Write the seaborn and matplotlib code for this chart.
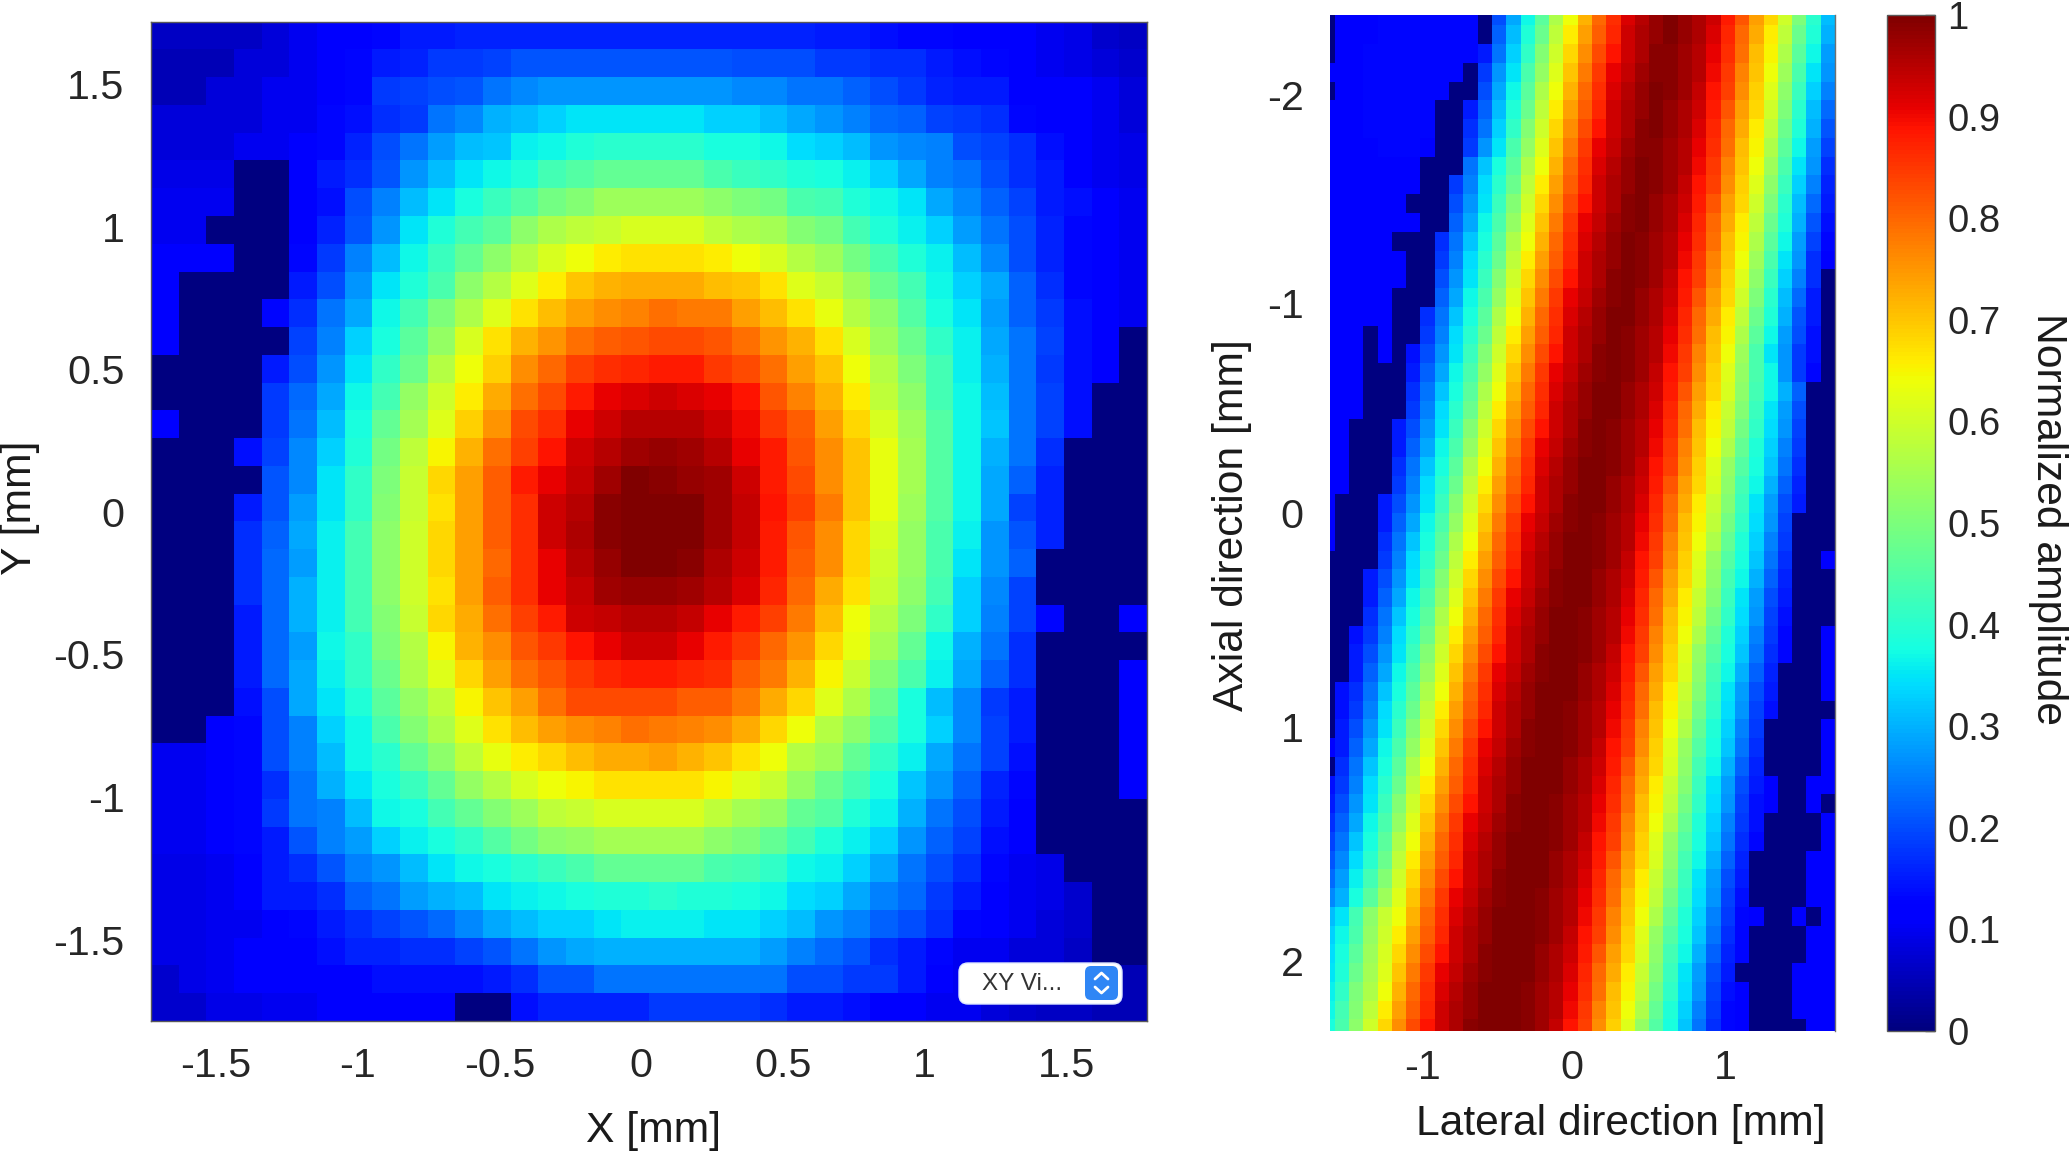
import matplotlib
matplotlib.use("Agg")
import matplotlib.pyplot as plt
from matplotlib.patches import FancyBboxPatch
from matplotlib.lines import Line2D
from matplotlib.transforms import ScaledTranslation
import numpy as np
import seaborn as sns

# Amplitudes, in percent of full scale; rows run top to bottom.
xy_view_pct = [
[6,6,6,6,8,10,11,12,13,15,15,16,16,16,16,16,16,16,16,16,16,16,16,16,15,15,14,13,13,12,11,11,10,9,7,6],
[5,5,5,8,8,10,12,13,15,16,18,18,19,21,21,21,21,21,21,21,21,20,20,20,18,18,17,17,15,14,13,12,10,9,8,7],
[5,5,8,8,10,10,11,13,18,19,20,21,24,26,27,27,27,27,27,27,27,26,26,24,24,22,20,18,16,15,15,12,11,11,10,8],
[8,8,8,8,10,10,13,14,17,18,24,26,30,31,33,35,35,35,35,35,33,33,31,29,27,25,23,22,19,18,17,13,12,11,10,8],
[8,8,8,10,10,12,13,16,20,24,28,31,32,36,37,39,40,40,40,40,38,38,37,34,33,31,27,26,25,20,19,17,14,12,10,9],
[9,9,9,0,0,11,15,17,21,27,31,35,37,39,43,45,47,47,47,47,44,42,41,39,38,36,33,29,25,24,20,17,15,12,10,9],
[10,10,10,0,0,11,14,20,25,31,35,38,42,45,49,51,54,54,54,54,52,50,49,44,43,39,37,35,29,26,22,19,15,14,11,10],
[10,10,0,0,0,12,16,21,27,35,39,43,46,52,56,58,59,61,61,61,58,56,55,51,49,43,39,36,33,28,24,20,16,13,11,10],
[11,11,11,0,0,13,18,25,31,37,42,47,52,57,61,64,66,67,67,67,66,64,61,57,54,49,44,39,36,31,26,20,16,13,12,10],
[11,0,0,0,0,15,20,27,35,39,44,52,57,62,66,70,72,73,73,73,71,70,67,62,59,54,48,43,37,33,29,22,17,13,12,10],
[11,0,0,0,13,17,24,29,37,43,50,56,62,67,71,74,76,77,79,78,78,74,71,67,63,57,52,45,38,35,28,22,18,14,12,10],
[12,0,0,0,0,19,25,33,38,46,53,61,67,72,75,79,81,82,83,83,82,79,75,72,67,61,54,48,41,36,29,24,19,14,12,0],
[0,0,0,0,15,20,27,35,41,48,57,64,69,76,80,84,86,87,88,88,85,83,79,74,70,64,57,50,43,36,30,24,18,14,12,0],
[0,0,0,0,18,23,29,37,43,53,60,66,73,79,83,88,91,92,93,92,91,89,82,77,72,66,58,52,43,37,31,24,19,14,0,0],
[12,0,0,0,18,24,31,38,47,55,62,69,75,83,86,91,93,95,95,95,93,90,85,81,74,68,61,54,45,37,32,24,19,14,0,0],
[0,0,0,14,19,26,33,39,49,58,65,72,79,84,89,93,95,97,98,97,95,91,88,82,76,70,63,55,45,37,30,24,17,0,0,0],
[0,0,0,0,21,26,35,41,50,59,68,74,81,88,91,94,97,100,99,98,97,93,88,83,76,70,63,55,45,37,29,22,16,0,0,0],
[0,0,0,15,21,28,35,41,51,59,67,74,81,86,93,95,99,100,100,100,97,94,89,84,78,70,63,54,45,37,29,19,16,0,0,0],
[0,0,0,17,22,29,36,43,52,60,68,74,81,86,93,96,99,100,100,100,97,94,88,82,76,68,61,53,44,36,27,21,16,0,0,0],
[0,0,0,17,23,28,36,43,52,60,68,74,80,86,91,95,98,100,100,99,96,93,88,81,76,68,60,53,44,35,27,22,0,0,0,0],
[0,0,0,17,23,30,36,43,52,60,67,74,81,86,91,94,97,98,98,97,95,92,87,80,73,67,59,52,43,33,26,19,0,0,0,0],
[0,0,0,15,23,30,36,43,51,59,68,73,79,84,88,93,94,95,95,94,91,88,84,78,71,64,57,50,41,33,25,19,13,0,0,12],
[0,0,0,15,23,28,37,41,50,57,65,72,76,82,85,89,91,93,93,91,88,85,80,75,68,63,55,47,37,30,24,17,0,0,0,0],
[0,0,0,15,23,29,36,41,48,56,62,68,74,79,82,85,87,88,88,87,86,81,78,72,65,59,51,44,36,29,22,17,0,0,0,12],
[0,0,0,14,20,29,35,39,46,53,58,65,70,74,79,83,83,83,83,81,81,78,73,68,62,56,48,38,31,26,18,15,0,0,0,11],
[0,0,11,13,20,25,33,37,44,51,56,62,67,71,74,76,77,79,78,77,76,73,68,64,57,52,45,38,33,26,19,15,0,0,0,11],
[10,10,11,13,20,25,31,37,40,47,52,58,63,66,68,71,73,73,74,72,70,67,64,57,54,47,41,36,29,24,19,14,0,0,0,11],
[10,10,11,13,17,24,30,35,38,42,47,53,57,61,64,65,67,67,67,67,65,62,59,53,48,43,38,32,27,22,16,13,0,0,0,11],
[10,10,11,13,18,24,25,31,37,38,43,47,51,54,58,59,61,61,61,61,58,55,53,47,45,39,36,30,24,20,15,11,0,0,0,0],
[10,10,11,13,15,21,25,28,33,36,38,41,45,49,52,53,55,55,55,55,52,50,47,43,39,36,33,27,22,19,14,11,0,0,0,0],
[9,9,10,12,15,17,21,25,27,31,35,37,38,40,42,44,47,47,47,47,44,43,41,37,36,33,29,24,20,17,13,10,9,0,0,0],
[9,9,10,12,15,15,17,22,24,28,30,31,35,36,37,38,39,39,40,39,39,38,37,34,33,29,25,23,18,15,11,10,9,7,0,0],
[9,9,10,10,12,13,15,17,19,21,23,26,29,31,33,33,35,36,36,36,35,35,33,31,27,25,22,20,17,13,11,10,8,7,0,0],
[9,9,10,11,11,12,14,16,16,17,17,19,21,24,27,29,30,30,30,30,30,30,28,25,23,21,17,15,13,10,10,8,8,6,0,0],
[7,9,10,11,11,11,12,12,14,14,14,14,15,17,21,21,24,24,24,24,24,24,24,20,20,18,18,15,12,10,9,8,7,6,6,5],
[7,7,9,9,10,10,11,11,12,12,12,0,0,14,16,16,16,16,18,18,18,18,17,15,15,14,12,11,10,10,8,7,6,6,5,5],
]

axial_view_pct = [
[0,12,12,12,13,13,13,13,13,13,13,0,20,29,37,46,56,64,72,80,86,92,95,98,100,98,96,93,88,82,74,68,60,50,40,31],
[0,12,12,12,13,13,13,13,13,13,13,0,22,31,39,48,58,66,74,81,87,93,96,98,100,98,96,92,87,80,73,66,58,48,39,30],
[0,12,12,13,13,13,13,13,13,13,13,15,24,33,41,51,60,68,76,83,89,93,96,99,99,97,95,91,86,79,71,65,56,46,37,28],
[11,12,12,13,13,13,13,13,13,13,0,18,27,35,44,53,62,70,78,85,91,94,97,99,99,97,95,90,85,77,70,64,54,44,35,27],
[0,12,12,13,13,13,13,13,13,0,0,20,29,37,46,56,64,72,80,86,92,95,98,100,99,97,94,89,84,76,69,62,52,42,33,25],
[11,11,12,13,13,13,13,13,0,0,15,22,31,39,48,58,66,74,81,87,93,96,98,100,98,96,93,88,82,74,68,60,50,40,31,23],
[11,11,12,13,13,13,13,13,0,0,17,24,33,41,51,60,68,76,83,89,93,96,99,100,98,96,92,87,80,73,66,58,48,39,30,21],
[11,12,12,12,13,13,13,11,0,0,18,27,35,44,53,62,70,78,85,91,94,97,99,99,97,95,91,86,79,71,65,56,46,37,28,19],
[11,12,12,12,12,11,11,0,0,0,24,32,38,46,56,64,72,80,86,92,95,98,100,99,97,95,90,85,77,70,64,54,44,35,27,17],
[11,12,12,12,12,11,11,0,0,18,25,34,40,48,58,66,74,81,87,93,96,98,100,99,97,94,89,84,76,69,62,52,42,33,25,16],
[11,11,12,12,12,11,0,0,0,20,27,35,42,51,60,68,76,83,89,93,96,99,100,98,96,93,88,82,74,68,60,50,40,31,23,15],
[11,11,12,12,11,11,11,0,0,22,29,37,44,53,62,70,78,85,91,94,97,99,100,98,96,92,87,80,73,66,58,48,39,30,21,14],
[11,11,12,12,12,0,0,0,17,24,32,38,46,56,64,72,80,86,92,95,98,100,99,97,95,91,86,79,71,65,56,46,37,28,19,13],
[11,11,11,11,11,11,0,0,18,25,34,40,48,58,66,74,81,87,93,96,98,100,99,97,95,90,85,77,70,64,54,44,35,27,17,12],
[11,11,11,11,11,11,0,0,20,27,35,42,51,60,68,76,83,89,93,96,99,100,99,97,94,89,84,76,69,62,52,42,33,25,17,0],
[11,11,11,11,11,0,0,0,22,29,37,44,53,62,70,78,85,91,94,97,99,100,98,96,93,88,82,74,68,60,50,40,31,23,15,0],
[11,11,11,11,11,0,0,17,24,32,38,46,56,64,72,80,86,92,95,98,100,100,98,96,92,87,80,73,66,58,48,39,30,21,15,0],
[11,11,11,0,11,0,0,18,25,34,40,48,58,66,74,81,87,93,96,98,100,99,97,95,91,86,79,71,65,56,46,37,28,20,14,0],
[11,11,11,0,11,0,14,20,27,35,42,51,60,68,76,83,89,93,96,99,100,99,97,95,90,85,77,70,64,54,44,35,27,18,14,0],
[11,11,11,0,0,0,15,22,29,37,44,53,62,70,78,85,91,94,97,99,100,99,97,94,89,84,76,69,62,53,44,37,27,18,13,0],
[11,11,11,0,0,0,17,24,32,38,46,56,64,72,80,86,92,95,98,100,100,98,96,93,88,82,74,68,61,52,43,37,30,22,0,0],
[11,11,11,0,0,0,18,25,34,40,48,58,66,74,81,87,93,96,98,100,100,98,96,92,87,80,73,66,59,51,42,35,28,20,0,0],
[11,11,0,0,0,15,20,27,35,42,51,60,68,76,83,89,93,96,99,100,99,97,95,91,86,79,71,65,58,49,41,34,27,19,0,0],
[11,11,0,0,0,15,22,29,37,44,53,62,70,78,85,91,94,97,99,100,99,97,95,90,85,77,70,64,56,47,39,33,25,18,0,0],
[11,11,0,0,0,17,24,32,38,46,56,64,72,80,86,92,95,98,100,100,99,97,94,89,84,76,69,62,53,45,38,32,24,17,0,0],
[11,11,0,0,0,18,25,34,40,48,58,66,74,81,87,93,96,98,100,100,98,96,93,88,82,74,68,61,52,43,37,30,22,16,0,0],
[11,0,0,0,15,20,27,35,42,51,60,68,76,83,89,93,96,99,100,100,98,96,92,87,80,73,66,59,51,42,35,28,20,15,0,0],
[11,0,0,0,15,22,29,37,44,53,62,70,78,85,91,94,97,99,100,99,97,95,91,86,79,71,65,58,49,41,34,27,19,0,0,0],
[11,0,0,0,17,24,32,38,46,56,64,72,80,86,92,95,98,100,100,99,97,95,90,85,77,70,64,56,47,39,33,25,18,0,0,0],
[0,0,0,0,18,25,34,40,48,58,66,74,81,87,93,96,98,100,100,99,97,94,89,84,76,69,62,53,45,38,32,24,17,0,0,11],
[0,0,0,15,20,27,35,42,51,60,68,76,83,89,93,96,99,100,100,98,96,93,88,82,74,68,61,52,43,37,30,22,16,0,0,0],
[0,0,0,15,22,29,37,44,53,62,70,78,85,91,94,97,99,100,100,98,96,92,87,80,73,66,59,51,42,35,28,20,15,0,0,0],
[0,0,0,17,24,32,38,46,56,64,72,80,86,92,95,98,100,100,99,97,95,91,86,79,71,65,58,49,41,34,27,19,14,0,0,0],
[0,0,14,18,25,34,40,48,58,66,74,81,87,93,96,98,100,100,99,97,95,90,85,77,70,64,56,47,39,33,25,18,13,0,0,11],
[0,0,15,20,27,35,42,51,60,68,76,83,89,93,96,99,100,100,99,97,94,89,84,76,69,62,53,45,38,32,24,17,13,0,0,11],
[0,0,15,22,29,37,44,53,62,70,78,85,91,94,97,99,100,100,98,96,93,88,82,74,68,61,52,43,37,30,22,16,0,0,0,11],
[0,14,17,24,32,38,46,56,64,72,80,86,92,95,98,100,100,100,98,96,92,87,80,73,66,59,51,42,35,28,20,15,0,0,0,11],
[0,14,18,25,34,40,48,58,66,74,81,87,93,96,98,100,100,99,97,95,91,86,79,71,65,58,49,41,34,27,19,14,0,0,0,0],
[0,15,20,27,35,42,51,60,68,76,83,89,93,96,99,100,100,99,97,95,90,85,77,70,64,56,47,39,33,25,18,0,0,0,0,11],
[12,15,22,29,37,44,53,62,70,78,85,91,94,97,99,100,100,99,97,94,89,84,76,69,62,53,45,38,32,24,17,0,0,0,0,11],
[0,17,24,32,38,46,56,64,72,80,86,92,95,98,100,100,100,98,96,93,88,82,74,68,61,52,43,37,30,22,16,0,0,0,0,11],
[14,18,25,34,40,48,58,66,74,81,87,93,96,98,100,100,100,98,96,92,87,80,73,66,59,51,42,35,28,20,15,12,0,0,11,11],
[15,20,27,35,42,51,60,68,76,83,89,93,96,99,100,100,99,97,95,91,86,79,71,65,58,49,41,34,27,19,14,12,0,0,11,0],
[17,22,29,37,44,53,62,70,78,85,91,94,97,99,100,100,99,97,95,90,85,77,70,64,56,47,39,33,25,18,14,0,0,0,0,11],
[19,24,32,38,46,56,64,72,80,86,92,95,98,100,100,100,99,97,94,89,84,76,69,62,53,45,38,32,24,17,13,0,0,0,0,11],
[21,26,34,40,48,58,66,74,81,87,93,96,98,100,100,100,98,96,93,88,82,74,68,61,52,43,37,30,22,16,0,0,0,0,11,11],
[23,28,36,43,51,60,68,76,83,89,93,96,99,100,100,100,98,96,92,87,80,73,66,59,51,42,35,28,20,15,0,0,0,0,11,11],
[26,30,38,46,54,62,70,78,85,91,94,97,99,100,100,99,97,95,91,86,79,71,65,58,49,41,34,27,19,14,0,0,0,0,11,11],
[31,35,43,52,59,64,72,80,86,92,95,98,100,100,100,99,97,95,90,85,77,70,64,56,47,39,33,25,18,13,12,0,0,11,0,11],
[33,37,44,53,60,66,74,81,87,93,96,98,100,100,100,99,97,94,89,84,76,69,62,53,45,38,32,24,17,13,0,0,0,0,11,11],
[34,38,46,54,61,68,76,83,89,93,96,99,100,100,100,98,96,93,88,82,74,68,61,52,43,37,30,22,16,13,0,0,0,0,11,11],
[35,39,48,55,62,70,78,85,91,94,97,99,100,100,100,98,96,92,87,80,73,66,59,51,42,35,28,20,15,0,0,0,0,11,11,11],
[36,41,50,56,64,72,80,86,92,95,98,100,100,100,99,97,95,91,86,79,71,65,58,49,41,34,27,19,14,11,0,0,0,11,11,11],
[37,43,51,58,66,74,81,87,93,96,98,100,100,100,99,97,95,90,85,77,70,64,56,47,39,33,25,18,13,11,0,0,0,11,11,11],
[38,44,52,60,68,76,83,89,93,96,99,100,100,100,99,97,94,89,84,76,69,62,53,45,38,32,24,17,13,11,0,0,0,0,11,11],
]

xy_x_ticks = [-1.5, -1, -0.5, 0, 0.5, 1, 1.5]
xy_x_labels = ["-1.5", "-1", "-0.5", "0", "0.5", "1", "1.5"]
xy_y_ticks = [1.5, 1, 0.5, 0, -0.5, -1, -1.5]
xy_y_labels = ["1.5", "1", "0.5", "0", "-0.5", "-1", "-1.5"]
lateral_labels = ["-1", "0", "1"]
axial_labels = ["-2", "-1", "0", "1", "2"]
cbar_ticks = [0, 0.1, 0.2, 0.3, 0.4, 0.5, 0.6, 0.7, 0.8, 0.9, 1]
cbar_labels = ["0", "0.1", "0.2", "0.3", "0.4", "0.5", "0.6", "0.7", "0.8", "0.9", "1"]

W, H = 2070, 1156
DARK = "#262626"
TICK_FS = 29.7
LABEL_FS = 30.7

sns.set_theme(style="white")
plt.rcParams["font.family"] = ["Liberation Sans", "DejaVu Sans"]
fig = plt.figure(figsize=(W / 100, H / 100), dpi=100, facecolor="white")


def box(x0, y0, x1, y1):
    return [x0 / W, 1 - y1 / H, (x1 - x0) / W, (y1 - y0) / H]


ax_xy = fig.add_axes(box(151, 21.7, 1147, 1021))
ax_ax = fig.add_axes(box(1330, 15.3, 1835, 1030.7))
cax = fig.add_axes(box(1887, 15.3, 1935, 1030.7))

xy = np.array(xy_view_pct) / 100
axial = np.array(axial_view_pct) / 100

sns.heatmap(xy, ax=ax_xy, cmap="jet", vmin=0, vmax=1, cbar=False,
            xticklabels=False, yticklabels=False)
sns.heatmap(axial, ax=ax_ax, cmap="jet", vmin=0, vmax=1, cbar=True, cbar_ax=cax,
            xticklabels=False, yticklabels=False)

# left panel: ticks in mm converted to cell coordinates
ax_xy.set_xticks([17.53 + v * 10.243 for v in xy_x_ticks], xy_x_labels)
ax_xy.set_yticks([17.48 - v * 10.27 for v in xy_y_ticks], xy_y_labels)
ax_xy.set_xlim(0, 36)
ax_xy.set_ylim(36, 0)
ax_xy.tick_params(axis="both", which="both", direction="in", length=7, width=1,
                  color="#404040", labelcolor=DARK, labelsize=TICK_FS,
                  top=True, right=True, bottom=True, left=True)
ax_xy.tick_params(axis="x", pad=19)
ax_xy.tick_params(axis="y", pad=19)

# right panel: its labels sit at uneven places in the reference
ax_ax.set_xticks([7.17, 17.59, 28.36], lateral_labels)
ax_ax.set_yticks([4.71, 15.8, 27.0, 38.4, 50.9], axial_labels)
ax_ax.set_xlim(0.67, 36)
ax_ax.set_ylim(54.6, 0.458)
ax_ax.tick_params(axis="both", which="both", length=0, labelcolor=DARK, labelsize=TICK_FS)
ax_ax.tick_params(axis="x", pad=13, bottom=True)
ax_ax.tick_params(axis="y", pad=19, left=True)

for s in ax_xy.spines.values():
    s.set_visible(True)
    s.set_color("#595959")
    s.set_linewidth(1)
ax_ax.spines["right"].set_visible(True)
ax_ax.spines["right"].set_color("#707070")
ax_ax.spines["right"].set_linewidth(1)

# the reference's left-panel labels sit about 5 px off their ticks
px = fig.dpi_scale_trans
for t in ax_xy.get_xticklabels():
    t.set_transform(t.get_transform() + ScaledTranslation(5 / 100, 0, px))
for t in ax_xy.get_yticklabels():
    t.set_transform(t.get_transform() + ScaledTranslation(0, -5 / 100, px))

cb = ax_ax.collections[0].colorbar
cb.set_ticks(cbar_ticks, labels=cbar_labels)
cb.ax.tick_params(direction="in", length=7, width=1, color="#404040",
                  labelcolor=DARK, labelsize=27.5, pad=9, right=True, left=False)
cb.outline.set_edgecolor("#595959")
cb.outline.set_linewidth(1)
cb.outline.set_visible(True)


def label(px_x, px_y, s, rot=0):
    fig.text(px_x / W, 1 - px_y / H, s, ha="center", va="center", rotation=rot,
             fontsize=LABEL_FS, color="#1a1a1a")


label(653, 1131, "X [mm]")
label(20, 508, "Y [mm]", 90)
label(1621, 1124, "Lateral direction [mm]")
label(1232, 525, "Axial direction [mm]", 90)
label(2048, 519, "Normalized amplitude", 270)


# view selector control on the left panel
def fx(v):
    return v / W


def fy(v):
    return 1 - v / H


fig.add_artist(FancyBboxPatch((959, H - 1004), 163, 41,
                              boxstyle="round,pad=0,rounding_size=9",
                              transform=None, facecolor="white",
                              edgecolor="#dfe8ff", linewidth=1, zorder=5))
fig.add_artist(FancyBboxPatch((1085, H - 1000), 33, 34,
                              boxstyle="round,pad=0,rounding_size=6",
                              transform=None, facecolor="#2f86f5",
                              edgecolor="none", zorder=6))
for ys in ((979, 973, 979), (987, 993, 987)):
    fig.add_artist(Line2D([fx(1095), fx(1101.5), fx(1108)], [fy(y) for y in ys],
                          transform=fig.transFigure, color="white", lw=2, zorder=7))
fig.text(fx(982), fy(984), "XY Vi...", ha="left", va="center", fontsize=17.5,
         color="#333333", zorder=7)

fig.savefig("out.png", dpi=100, facecolor="white")
